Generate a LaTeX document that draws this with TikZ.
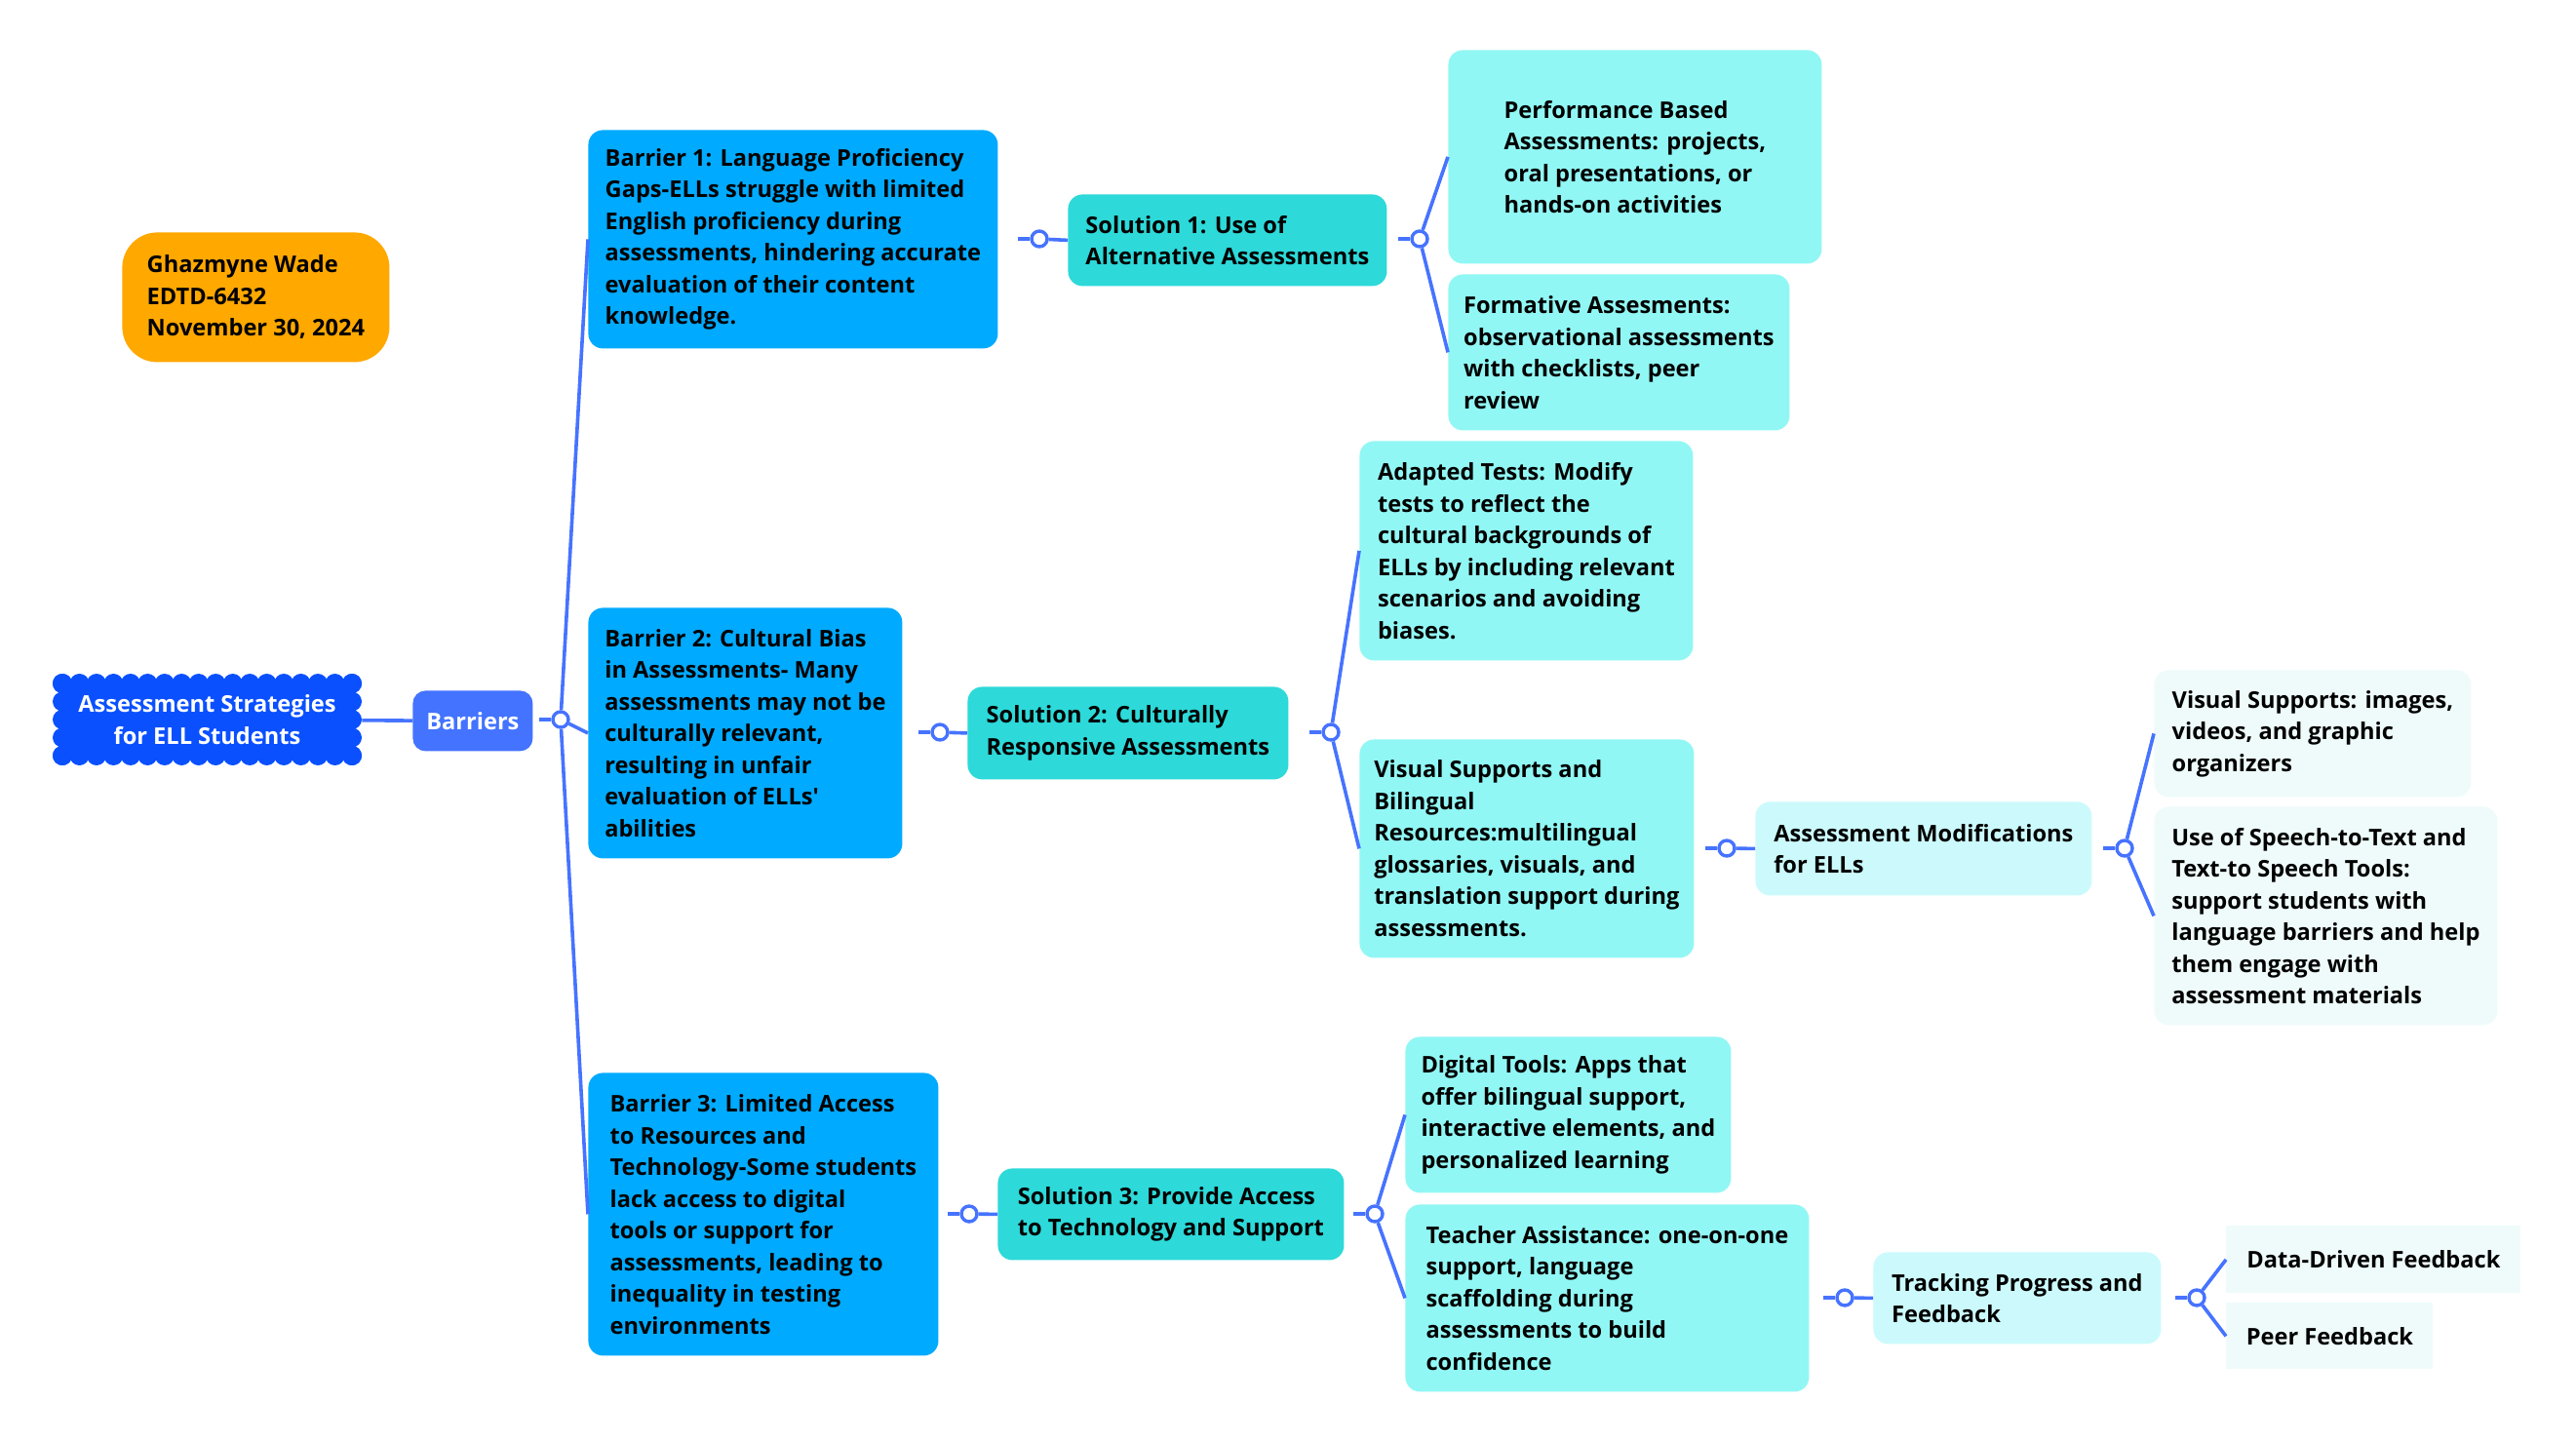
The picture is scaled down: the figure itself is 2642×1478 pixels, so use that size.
\documentclass[tikz,border=0pt]{standalone}
\usepackage{fontspec}
\setmainfont{Open Sans}
\definecolor{rootblue}{HTML}{0A50FF}
\definecolor{barblue}{HTML}{4373FF}
\definecolor{lvlone}{HTML}{00AAFF}
\definecolor{lvltwo}{HTML}{2DD9D9}
\definecolor{lvlthree}{HTML}{91F7F4}
\definecolor{lvlfour}{HTML}{CCFAFC}
\definecolor{lvlfive}{HTML}{EEFBFA}
\definecolor{authorbg}{HTML}{FFA800}
\definecolor{linecol}{HTML}{4673FF}
\newcommand\mmtxt{\bfseries\fontsize{11.8}{16.25}\selectfont}
\tikzset{
  bx/.style={draw=none, rounded corners=7.5pt, align=left, anchor=north west, inner sep=0pt, font=\mmtxt, text=black},
  ln/.style={draw=linecol, line width=1.8pt},
  jc/.style={circle, draw=linecol, fill=white, line width=1.7pt, inner sep=0pt, minimum size=8pt},
}
\begin{document}
\begin{tikzpicture}[x=0.5pt,y=-0.5pt]
\fill[white] (0,0) rectangle (2642,1478);
\useasboundingbox (0,0) rectangle (2642,1478);

% author
\node[bx, fill=authorbg, rounded corners=18pt, minimum width=137pt, minimum height=66.5pt] (author) at (125,238) {Ghazmyne Wade\\EDTD-6432\\November 30, 2024};

% root with scalloped border
\foreach \i in {0,...,17} {
  \fill[rootblue] (64+\i*297/17,701) circle[radius=5pt];
  \fill[rootblue] (64+\i*297/17,775) circle[radius=5pt];
}
\foreach \j in {0,...,4} {
  \fill[rootblue] (64,701+\j*74/4) circle[radius=5pt];
  \fill[rootblue] (361,701+\j*74/4) circle[radius=5pt];
}
\node[fill=rootblue, inner sep=0pt, minimum width=148.5pt, minimum height=37pt, align=center, font=\mmtxt, text=white] (root) at (212.5,738) {Assessment Strategies\\for ELL Students};

\node[bx, fill=barblue, rounded corners=6.5pt, text=white, minimum width=61.5pt, minimum height=31pt] (barriers) at (423,708) {Barriers};

% level 1
\node[bx, fill=lvlone, minimum width=210pt, minimum height=112pt] (b1) at (603,133) {Barrier 1: Language Proficiency\\Gaps-ELLs struggle with limited\\English proficiency during\\assessments, hindering accurate\\evaluation of their content\\knowledge.};
\node[bx, fill=lvlone, minimum width=161pt, minimum height=128.5pt] (b2) at (603,623) {Barrier 2: Cultural Bias\\in Assessments- Many\\assessments may not be\\culturally relevant,\\resulting in unfair\\evaluation of ELLs\textquotesingle\\abilities};
\node[bx, fill=lvlone, minimum width=179.5pt, minimum height=145pt] (b3) at (603,1100) {Barrier 3: Limited Access\\to Resources and\\Technology-Some students\\lack access to digital\\tools or support for\\assessments, leading to\\inequality in testing\\environments};

% level 2
\node[bx, fill=lvltwo, minimum width=163.5pt, minimum height=47pt] (s1) at (1095,199) {Solution 1: Use of\\Alternative Assessments};
\node[bx, fill=lvltwo, minimum width=164.5pt, minimum height=47.5pt] (s2) at (992,704) {Solution 2: Culturally\\Responsive Assessments};
\node[bx, fill=lvltwo, minimum width=177.5pt, minimum height=47pt] (s3) at (1023,1198) {Solution 3: Provide Access\\to Technology and Support};

% level 3
\node[bx, fill=lvlthree, minimum width=191.5pt, minimum height=109.5pt] (perf) at (1485,51) {Performance Based\\Assessments: projects,\\oral presentations, or\\hands-on activities};
\node[bx, fill=lvlthree, minimum width=175pt, minimum height=80pt] (form) at (1485,281) {Formative Assesments:\\observational assessments\\with checklists, peer\\review};
\node[bx, fill=lvlthree, minimum width=171pt, minimum height=112.5pt] (adapt) at (1394,452) {Adapted Tests: Modify\\tests to reflect the\\cultural backgrounds of\\ELLs by including relevant\\scenarios and avoiding\\biases.};
\node[bx, fill=lvlthree, minimum width=171.5pt, minimum height=112pt] (vis) at (1394,758) {Visual Supports and\\Bilingual\\Resources:multilingual\\glossaries, visuals, and\\translation support during\\assessments.};
\node[bx, fill=lvlthree, minimum width=167pt, minimum height=80pt] (dig) at (1441,1063) {Digital Tools: Apps that\\offer bilingual support,\\interactive elements, and\\personalized learning};
\node[bx, fill=lvlthree, minimum width=207pt, minimum height=96pt] (teach) at (1441,1235) {Teacher Assistance: one-on-one\\support, language\\scaffolding during\\assessments to build\\confidence};

% level 4
\node[bx, fill=lvlfour, minimum width=172.5pt, minimum height=48pt] (amod) at (1800,822) {Assessment Modifications\\for ELLs};
\node[bx, fill=lvlfour, minimum width=147.5pt, minimum height=47pt] (track) at (1921,1284) {Tracking Progress and\\Feedback};

% level 5
\node[bx, fill=lvlfive, minimum width=162.5pt, minimum height=65pt] (vimg) at (2209,687) {Visual Supports: images,\\videos, and graphic\\organizers};
\node[bx, fill=lvlfive, minimum width=176pt, minimum height=112pt] (speech) at (2209,827) {Use of Speech-to-Text and\\Text-to Speech Tools:\\support students with\\language barriers and help\\them engage with\\assessment materials};
\node[bx, fill=lvlfive, rounded corners=0pt, minimum width=151pt, minimum height=34.5pt] (data) at (2283,1257) {Data-Driven Feedback};
\node[bx, fill=lvlfive, rounded corners=0pt, minimum width=106pt, minimum height=34pt] (peer) at (2283,1336) {Peer Feedback};

% junctions
\node[jc] (j0) at (575,738) {};
\node[jc] (j1) at (1066,245) {};
\node[jc] (j2) at (964,751) {};
\node[jc] (j3) at (994,1245) {};
\node[jc] (j4) at (1456,245) {};
\node[jc] (j5) at (1365,751) {};
\node[jc] (j6) at (1771,870) {};
\node[jc] (j7) at (2179,870) {};
\node[jc] (j8) at (1410,1245) {};
\node[jc] (j9) at (1892,1331) {};
\node[jc] (j10) at (2253,1331) {};
\coordinate (j0s) at (553,738);
\coordinate (j1s) at (1044,245);
\coordinate (j2s) at (942,751);
\coordinate (j3s) at (972,1245);
\coordinate (j4s) at (1434,245);
\coordinate (j5s) at (1343,751);
\coordinate (j6s) at (1749,870);
\coordinate (j7s) at (2157,870);
\coordinate (j8s) at (1388,1245);
\coordinate (j9s) at (1870,1331);
\coordinate (j10s) at (2231,1331);

% connectors
\draw[ln, shorten <=5pt] (root) -- (barriers);
\foreach \k in {0,...,10} { \draw[ln] (j\k s) -- (j\k); }
\draw[ln] (j0) -- (b1.west);
\draw[ln] (j0) -- (b2.west);
\draw[ln] (j0) -- (b3.west);
\draw[ln] (j1) -- (s1.west);
\draw[ln] (j2) -- (s2.west);
\draw[ln] (j3) -- (s3.west);
\draw[ln] (j4) -- (perf.west);
\draw[ln] (j4) -- (form.west);
\draw[ln] (j5) -- (adapt.west);
\draw[ln] (j5) -- (vis.west);
\draw[ln] (j6) -- (amod.west);
\draw[ln] (j7) -- (vimg.west);
\draw[ln] (j7) -- (speech.west);
\draw[ln] (j8) -- (dig.west);
\draw[ln] (j8) -- (teach.west);
\draw[ln] (j9) -- (track.west);
\draw[ln] (j10) -- (data.west);
\draw[ln] (j10) -- (peer.west);
\end{tikzpicture}
\end{document}
